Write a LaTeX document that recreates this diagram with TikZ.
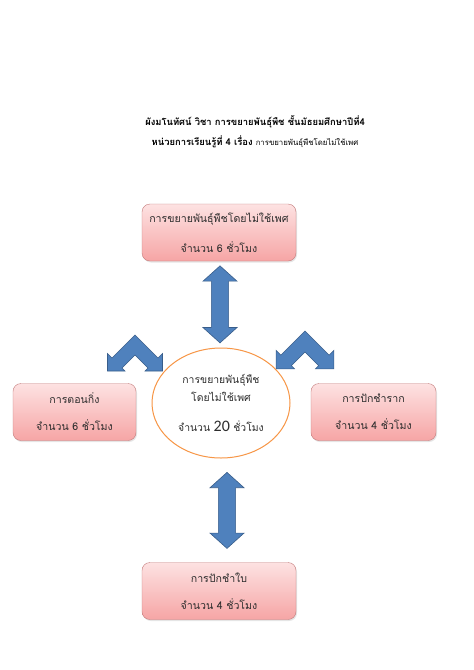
\documentclass[tikz,border=0pt]{standalone}
\usepackage{fontspec}
\setmainfont{Loma}[Script=Thai]
\newfontfamily\latinfont{Carlito}
\usetikzlibrary{shapes.geometric, shapes.arrows, shadows, calc}
\definecolor{boxtop}{RGB}{253,226,226}
\definecolor{boxbottom}{RGB}{246,165,165}
\definecolor{boxline}{RGB}{196,124,124}
\definecolor{arrowfill}{RGB}{79,129,189}
\definecolor{arrowline}{RGB}{56,93,138}
\definecolor{ringline}{RGB}{247,150,70}
\definecolor{txt}{RGB}{45,45,45}
\tikzstyle{topic} = [rectangle, rounded corners=8pt, 
minimum width=154pt, 
minimum height=57pt,
text centered, align=center,
draw=boxline, top color=boxtop, bottom color=boxbottom,
drop shadow={opacity=0.2, shadow xshift=1pt, shadow yshift=-1.5pt},
text=txt, font=\fontsize{10.6}{12}\selectfont]
\tikzstyle{hub} = [ellipse, draw=ringline, line width=1pt, fill=white,
minimum width=138pt, minimum height=110pt, inner sep=0pt,
align=center, text=txt, font=\fontsize{10.4}{18}\selectfont]
\tikzstyle{updown} = [double arrow, double arrow head extend=8.4pt,
double arrow tip angle=96, minimum height=77pt,
inner xsep=0pt, inner ysep=8.3pt, rotate=90, fill=arrowfill, draw=arrowline, line width=0.6pt]
\tikzstyle{bent} = [fill=arrowfill, draw=arrowline, line width=0.6pt, line join=miter]
\newcommand{\bentarrow}[2]{%
  \begin{scope}[shift={#1}, scale=#2]
    \draw[bent] (0,0) -- (23,23) -- (27.5,18.5) -- (27.5,36) -- (10,36) -- (13,33)
      -- (0,20) -- (-13,33) -- (-10,36) -- (-27.5,36) -- (-27.5,18.5) -- (-23,23) -- cycle;
  \end{scope}}

\begin{document}
\begin{tikzpicture}[x=1pt, y=-1pt, node distance=170pt]
    \useasboundingbox (0,0) rectangle (474,670);
    \fill[white] (0,0) rectangle (474,670);
    % heading
    \node (title) at (255,132) [align=center, text=black, font=\bfseries\fontsize{9.4}{20}\selectfont]
        {ผังมโนทัศน์ วิชา การขยายพันธุ์พืช ชั้นมัธยมศึกษาปีที่4\\
         หน่วยการเรียนรู้ที่ 4 เรื่อง {\mdseries\fontsize{7.8}{20}\selectfont การขยายพันธุ์พืชโดยไม่ใช้เพศ}};
    % nodes
    \node (hub) [hub] at (221,403) {การขยายพันธุ์พืช\\โดยไม่ใช้เพศ\\[12pt]จำนวน {\latinfont\fontsize{16}{16}\selectfont 20} ชั่วโมง};
    \node (asexual) [topic, above of=hub, yshift=0.5pt, xshift=-2pt] {การขยายพันธุ์พืชโดยไม่ใช้เพศ\\[15pt]จำนวน 6 ชั่วโมง};
    \node (layer) [topic, minimum width=123pt, left of=hub, xshift=23.5pt, yshift=-9pt] {การตอนกิ่ง\\[15pt]จำนวน 6 ชั่วโมง};
    \node (rootcut) [topic, minimum width=125pt, right of=hub, xshift=-17.5pt, yshift=-9pt] {การปักชำราก\\[15pt]จำนวน 4 ชั่วโมง};
    \node (leafcut) [topic, below of=hub, yshift=-18pt, xshift=-2pt] {การปักชำใบ\\[15pt]จำนวน 4 ชั่วโมง};
    % block arrows
    \node (arrtop) [updown] at ($(asexual.south)!0.5!(hub.north)$) {};
    \node (arrbottom) [updown, minimum height=76pt, yshift=-7pt] at ($(hub.south)!0.5!(leafcut.north)$) {};
    \bentarrow{(135,335)}{1}
    \bentarrow{(305,331)}{1.05}
\end{tikzpicture}
\end{document}
